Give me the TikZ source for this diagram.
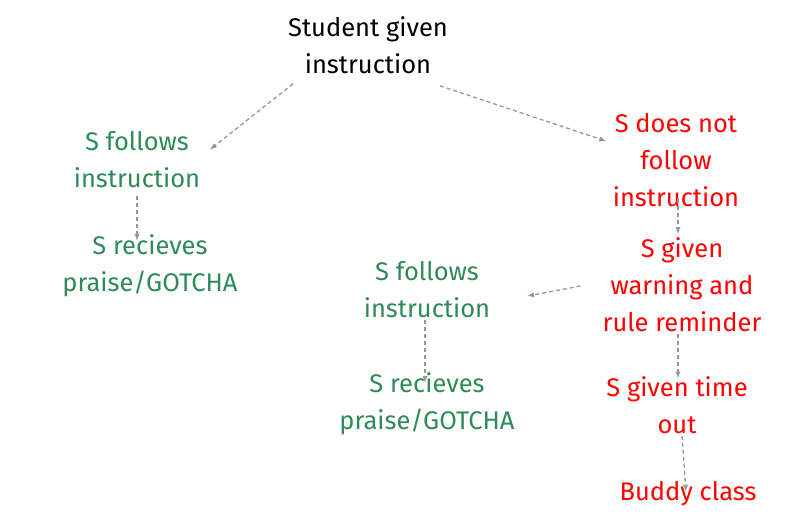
\documentclass[tikz,border=0pt]{standalone}
\usepackage{fontspec}
\setmainfont{Fira Sans}
\begin{document}
\begin{tikzpicture}[x=1pt,y=-1pt,
 lbl/.style={align=center,font=\fontsize{25.5}{37}\selectfont,inner sep=0pt},
 grn/.style={lbl,text={rgb,255:red,46;green,139;blue,87}},
 rd/.style={lbl,text=red},
 arr/.style={draw={rgb,255:red,150;green,150;blue,150},dash pattern=on 4pt off 3pt,line width=1.3pt,-latex}]
\useasboundingbox (0,0) rectangle (800,525);
\node[lbl] (top) at (368,45) {Student given\\instruction};
\node[grn] (f1) at (137,160) {S follows\\instruction};
\node[rd] (nf) at (676,160) {S does not\\follow\\instruction};
\node[grn] (p1) at (150,266) {S recieves\\praise/GOTCHA};
\node[rd] (w) at (682,285) {S given\\warning and\\rule reminder};
\node[grn] (f2) at (427,290) {S follows\\instruction};
\node[grn] (p2) at (427,404) {S recieves\\praise/GOTCHA};
\node[rd] (t) at (677,405) {S given time\\out};
\node[rd] (b) at (688,494) {Buddy class};
\draw[arr] ([xshift=-75pt,yshift=-10pt]top.south) -- ([xshift=73pt,yshift=-18pt]f1.north);
\draw[arr] ([xshift=72pt,yshift=-12pt]top.south) -- ([xshift=-70pt,yshift=-28pt]nf.north);
\draw[arr] ([yshift=-8pt]f1.south) -- ([xshift=-13pt,yshift=-6pt]p1.north);
\draw[arr] ([xshift=2pt,yshift=8pt]nf.south) -- ([xshift=-4pt,yshift=4pt]w.north);
\draw[arr] ([xshift=-22pt,yshift=-1pt]w.west) -- ([xshift=37pt,yshift=-6pt]f2.east);
\draw[arr] ([xshift=-2pt,yshift=-2pt]f2.south) -- ([xshift=-2pt,yshift=-10pt]p2.north);
\draw[arr] ([xshift=-4pt,yshift=-2pt]w.south) -- ([xshift=1pt,yshift=-2pt]t.north);
\draw[arr] ([xshift=5pt,yshift=-2pt]t.south) -- ([xshift=-2pt,yshift=-10pt]b.north);
\end{tikzpicture}
\end{document}
